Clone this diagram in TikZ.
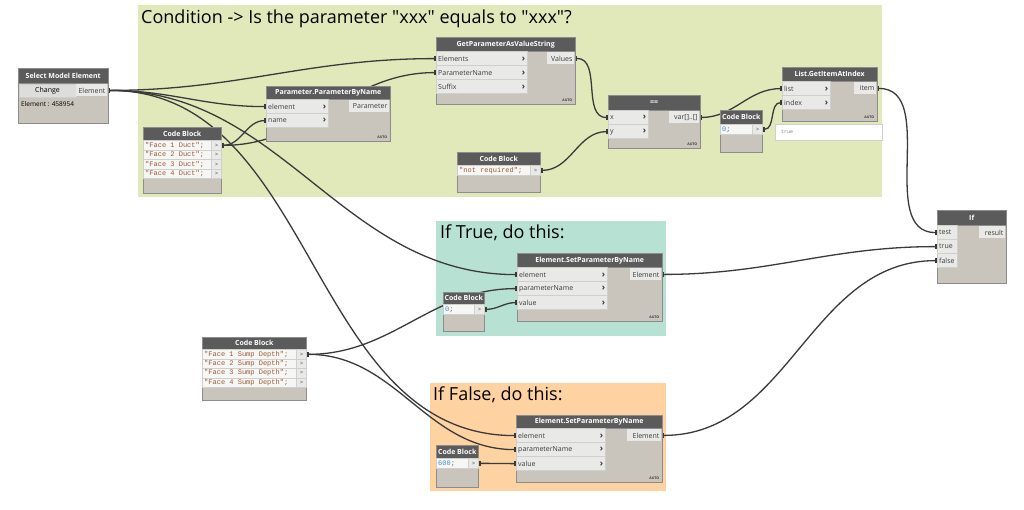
\documentclass[tikz,border=0pt]{standalone}
\usepackage{fontspec}
\setmainfont{Open Sans}
\setmonofont{Liberation Mono}
\usetikzlibrary{positioning,arrows.meta}

\definecolor{headgray}{HTML}{5B5B5B}
\definecolor{bodygray}{HTML}{C9C5BC}
\definecolor{portgray}{HTML}{E9E9E7}
\definecolor{btngray}{HTML}{DDDDDB}
\definecolor{rowline}{HTML}{CFCFCC}
\definecolor{edgegray}{HTML}{8C8C8C}
\definecolor{textgray}{HTML}{3C3C3C}
\definecolor{codebrown}{HTML}{9A5A36}
\definecolor{numblue}{HTML}{3F8DDC}
\definecolor{wiregray}{HTML}{3A3A3A}
\definecolor{condfill}{HTML}{E1E9BB}
\definecolor{truefill}{HTML}{B7E2D3}
\definecolor{falsefill}{HTML}{FFD2A1}

\newcommand{\dynhead}{\bfseries\fontsize{7}{8}\selectfont}
\newcommand{\dynport}{\fontsize{7}{8}\selectfont}
\newcommand{\dyncode}{\ttfamily\fontsize{7}{8}\selectfont}
\newcommand{\chev}{{\fontsize{9}{8}\selectfont\textbf{›}}}
\newcommand{\cbnum}[1]{\textcolor{numblue}{#1}}

\pgfdeclarelayer{groups}
\pgfdeclarelayer{wires}
\pgfsetlayers{groups,wires,main}

\tikzset{
head/.style={draw=edgegray,fill=headgray,text=white,font=\dynhead,anchor=north west,minimum height=14pt,inner sep=0pt},
body/.style={draw=edgegray,fill=bodygray,anchor=north west,inner sep=0pt},
inport/.style={fill=portgray,draw=rowline,anchor=north west,text width=#1,align=left,inner xsep=2pt,inner ysep=0pt,minimum height=14pt,font=\dynport,text=textgray},
outport/.style={fill=portgray,anchor=north east,outer sep=1pt,text width=#1,align=right,inner xsep=2pt,inner ysep=0pt,minimum height=12pt,font=\dynport,text=textgray},
btn/.style={fill=btngray,draw=rowline,anchor=north west,outer sep=1pt,minimum width=57pt,minimum height=13pt,inner sep=0pt,font=\dynport,text=black},
coderow/.style={fill=white!60!portgray,draw=rowline,anchor=north west,text width=#1,align=left,inner xsep=2pt,inner ysep=0pt,minimum height=9.5pt,font=\dyncode,text=codebrown,execute at begin node={\spaceskip=4.2pt\relax}},
codeout/.style={fill=portgray,draw=rowline,anchor=north west,minimum width=10pt,minimum height=9.5pt,inner sep=0pt,font=\fontsize{5.5}{6}\selectfont,text=textgray},
autotag/.style={anchor=south east,font=\bfseries\fontsize{3.5}{4}\selectfont,text=textgray,inner sep=0pt},
plain/.style={anchor=west,font=\fontsize{6.5}{7}\selectfont,inner sep=0pt},
prevbox/.style={draw=rowline,fill=white,anchor=north west,text width=95pt,align=left,inner xsep=6pt,inner ysep=0pt,minimum height=16pt,font=\ttfamily\fontsize{5}{6}\selectfont,text=gray},
grp/.style={fill=#1,anchor=north west,inner sep=0pt},
grptitle/.style={anchor=base west,font=\fontsize{18}{20}\selectfont,inner sep=0pt},
wire/.style={draw=wiregray,line width=1.3pt,{Rectangle[length=2pt,width=5pt]}-{Rectangle[length=2pt,width=5pt]}},
}

\begin{document}
\begin{tikzpicture}[x=1pt,y=-1pt]
  \useasboundingbox (0,0) rectangle (1024,509);
  \begin{pgfonlayer}{groups}
    \fill[white] (0,0) rectangle (1024,509);
    \node[grp=condfill,minimum width=744pt,minimum height=192pt] (condgrp) at (138,5) {};
    \node[grp=truefill,minimum width=230pt,minimum height=115pt] (truegrp) at (436,221) {};
    \node[grp=falsefill,minimum width=236pt,minimum height=108pt] (falsegrp) at (430,383) {};
  \end{pgfonlayer}
  \node[grptitle] (condtitle) at (141,23) {Condition -> Is the parameter \textquotedbl{}xxx\textquotedbl{} equals to \textquotedbl{}xxx\textquotedbl{}?};
  \node[grptitle] (truetitle) at (440,238) {If True, do this:};
  \node[grptitle] (falsetitle) at (433,400) {If False, do this:};

  % Select Model Element
  \node[head,minimum width=90pt,minimum height=15pt] (selh) at (18,68) {Select Model Element};
  \node[body,minimum width=90pt,minimum height=40pt,below=0pt of selh] (selb) {};
  \node[btn] (sel-btn) at (selb.north west) {Change};
  \node[outport=27pt] (sel-out) at (selb.north east) {Element};
  \node[plain] (sel-val) at ([xshift=3pt,yshift=-21pt]selb.north west) {Element : 458954};

  % Code Block, duct names
  \node[head,minimum width=78pt,minimum height=13pt] (cbducth) at (143,127) {Code Block};
  \node[body,minimum width=78pt,minimum height=53pt,below=0pt of cbducth] (cbductb) {};
  \foreach \i in {1,...,4} {
    \node[coderow=64pt] (cbduct-l\i) at ([yshift={-(\i-1)*9.5pt}]cbductb.north west) {"Face \i{} Duct";};
    \node[codeout] (cbduct-o\i) at (cbduct-l\i.north east) {>};
  }

  % Parameter.ParameterByName
  \node[head,minimum width=124pt,minimum height=13pt] (pbnh) at (266,86) {Parameter.ParameterByName};
  \node[body,minimum width=124pt,minimum height=42pt,below=0pt of pbnh] (pbnb) {};
  \foreach \p [count=\i] in {element,name}
    \node[inport=58pt] (pbn-in\i) at ([yshift={-(\i-1)*14pt}]pbnb.north west) {\p\hfill\chev};
  \node[outport=36pt] (pbn-out) at (pbnb.north east) {Parameter};
  \node[autotag] (pbn-auto) at ([xshift=-3pt,yshift=3pt]pbnb.south east) {AUTO};

  % GetParameterAsValueString
  \node[head,minimum width=139pt] (gpvh) at (436,37) {GetParameterAsValueString};
  \node[body,minimum width=139pt,minimum height=53pt,below=0pt of gpvh] (gpvb) {};
  \foreach \p [count=\i] in {Elements,ParameterName,Suffix}
    \node[inport=87pt] (gpv-in\i) at ([yshift={-(\i-1)*14pt}]gpvb.north west) {\p\hfill\chev};
  \node[outport=23pt] (gpv-out) at (gpvb.north east) {Values};
  \node[autotag] (gpv-auto) at ([xshift=-3pt,yshift=3pt]gpvb.south east) {AUTO};

  % Code Block, not required
  \node[head,minimum width=83pt,minimum height=13pt] (cbreqh) at (457,152) {Code Block};
  \node[body,minimum width=83pt,minimum height=27pt,below=0pt of cbreqh] (cbreqb) {};
  \node[coderow=69pt] (cbreq-l1) at (cbreqb.north west) {"not required";};
  \node[codeout] (cbreq-o1) at (cbreq-l1.north east) {>};

  % ==
  \node[head,minimum width=92pt,minimum height=15pt] (eqh) at (608,95) {==};
  \node[body,minimum width=92pt,minimum height=38pt,below=0pt of eqh] (eqb) {};
  \foreach \p [count=\i] in {x,y}
    \node[inport=36pt] (eq-in\i) at ([yshift={-(\i-1)*14pt}]eqb.north west) {\p\hfill\chev};
  \node[outport=26pt] (eq-out) at (eqb.north east) {var[]..[]};
  \node[autotag] (eq-auto) at ([xshift=-3pt,yshift=3pt]eqb.south east) {AUTO};

  % List.GetItemAtIndex
  \node[head,minimum width=95pt] (lsth) at (782,67) {List.GetItemAtIndex};
  \node[body,minimum width=95pt,minimum height=40pt,below=0pt of lsth] (lstb) {};
  \foreach \p [count=\i] in {list,index}
    \node[inport=44pt] (lst-in\i) at ([yshift={-(\i-1)*14pt}]lstb.north west) {\p\hfill\chev};
  \node[outport=18pt] (lst-out) at (lstb.north east) {item};
  \node[autotag] (lst-auto) at ([xshift=-3pt,yshift=3pt]lstb.south east) {AUTO};
  \node[prevbox] (lst-prev) at ([xshift=-7pt,yshift=-2pt]lstb.south west) {true};

  % Code Block, index
  \node[head,minimum width=42pt] (cbidxh) at (720,110) {Code Block};
  \node[body,minimum width=42pt,minimum height=28pt,below=0pt of cbidxh] (cbidxb) {};
  \node[coderow=28pt] (cbidx-l1) at (cbidxb.north west) {\cbnum{0};};
  \node[codeout] (cbidx-o1) at (cbidx-l1.north east) {>};

  % If
  \node[head,minimum width=69pt,minimum height=15pt] (ifh) at (937,210) {If};
  \node[body,minimum width=69pt,minimum height=58pt,below=0pt of ifh] (ifb) {};
  \foreach \p [count=\i] in {test,true,false}
    \node[inport=16pt] (if-in\i) at ([yshift={-(\i-1)*14pt}]ifb.north west) {\p};
  \node[outport=22pt] (if-out) at (ifb.north east) {result};

  % Element.SetParameterByName (true)
  \node[head,minimum width=145pt] (setth) at (517,253) {Element.SetParameterByName};
  \node[body,minimum width=145pt,minimum height=54pt,below=0pt of setth] (settb) {};
  \foreach \p [count=\i] in {element,parameterName,value}
    \node[inport=86pt] (sett-in\i) at ([yshift={-(\i-1)*14pt}]settb.north west) {\p\hfill\chev};
  \node[outport=27pt] (sett-out) at (settb.north east) {Element};
  \node[autotag] (sett-auto) at ([xshift=-3pt,yshift=3pt]settb.south east) {AUTO};

  % Code Block, 0
  \node[head,minimum width=41pt,minimum height=12pt] (cbzeroh) at (443,292) {Code Block};
  \node[body,minimum width=41pt,minimum height=27pt,below=0pt of cbzeroh] (cbzerob) {};
  \node[coderow=27pt] (cbzero-l1) at (cbzerob.north west) {\cbnum{0};};
  \node[codeout] (cbzero-o1) at (cbzero-l1.north east) {>};

  % Code Block, sump depths
  \node[head,minimum width=104pt,minimum height=12pt] (cbsumph) at (202,337) {Code Block};
  \node[body,minimum width=104pt,minimum height=51pt,below=0pt of cbsumph] (cbsumpb) {};
  \foreach \i in {1,...,4} {
    \node[coderow=90pt] (cbsump-l\i) at ([yshift={-(\i-1)*9.4pt}]cbsumpb.north west) {"Face \i{} Sump Depth";};
    \node[codeout] (cbsump-o\i) at (cbsump-l\i.north east) {>};
  }

  % Element.SetParameterByName (false)
  \node[head,minimum width=146pt,minimum height=13pt] (setfh) at (516,415) {Element.SetParameterByName};
  \node[body,minimum width=146pt,minimum height=54pt,below=0pt of setfh] (setfb) {};
  \foreach \p [count=\i] in {element,parameterName,value}
    \node[inport=85pt] (setf-in\i) at ([yshift={-(\i-1)*14pt}]setfb.north west) {\p\hfill\chev};
  \node[outport=30pt] (setf-out) at (setfb.north east) {Element};
  \node[autotag] (setf-auto) at ([xshift=-3pt,yshift=3pt]setfb.south east) {AUTO};

  % Code Block, 600
  \node[head,minimum width=42pt,minimum height=13pt] (cb600h) at (436,445) {Code Block};
  \node[body,minimum width=42pt,minimum height=29pt,below=0pt of cb600h] (cb600b) {};
  \node[coderow=28pt] (cb600-l1) at (cb600b.north west) {\cbnum{600};};
  \node[codeout] (cb600-o1) at (cb600-l1.north east) {>};

  % wires
  \begin{pgfonlayer}{wires}
    \foreach \a/\b in {sel-out/gpv-in1, sel-out/pbn-in1, sel-out/sett-in1, sel-out/setf-in1,
      cbduct-o1/pbn-in2, cbduct-o1/gpv-in2, gpv-out/eq-in1, cbreq-o1/eq-in2,
      eq-out/lst-in1, cbidx-o1/lst-in2, lst-out/if-in1, sett-out/if-in2, setf-out/if-in3,
      cbzero-o1/sett-in3, cbsump-o1/sett-in2, cbsump-o1/setf-in2, cb600-o1/setf-in3}
      \draw[wire] (\a.east) to[out=0,in=180] (\b.west);
  \end{pgfonlayer}
\end{tikzpicture}
\end{document}
